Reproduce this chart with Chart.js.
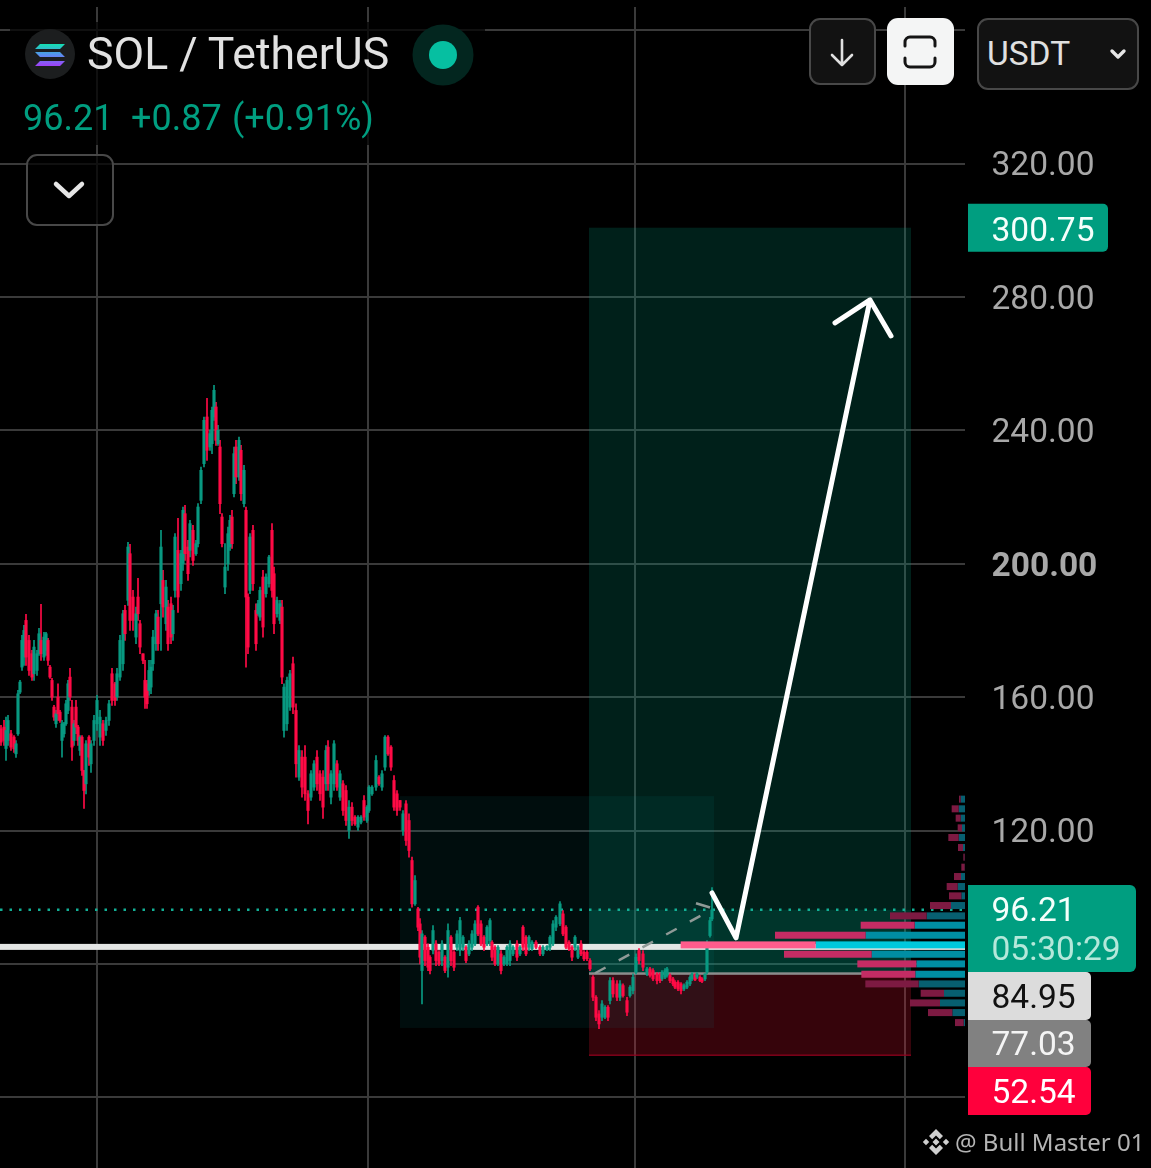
<!DOCTYPE html>
<html>
<head>
<meta charset="utf-8">
<title>SOL / TetherUS</title>
<script src="https://cdn.jsdelivr.net/npm/chart.js@4"></script>
<style>
  html, body { margin: 0; padding: 0; background: #000; }
  #wrap { position: relative; width: 1151px; height: 1168px; overflow: hidden; font-family: Roboto, sans-serif; }
  canvas { position: absolute; left: 0; top: 0; }
  .abs { position: absolute; }
  .btn { position: absolute; box-sizing: border-box; background: #121212; border: 2.5px solid #484848; border-radius: 11px; }
  .pair { position: absolute; left: 87px; top: 27px; font-size: 44.6px; line-height: 54px; color: #e2e2e2; white-space: nowrap; }
  .chg { position: absolute; top: 96px; font-size: 36px; line-height: 44px; color: #009e80; white-space: nowrap; }
</style>
</head>
<body>
<div id="wrap">
  <canvas id="chart" width="1151" height="1168"></canvas>

  <div class="abs" style="left:10px;top:22px;width:475px;height:123px;background:rgba(0,0,0,.72)"></div>
  <svg class="abs" style="left:25px;top:29px" width="50" height="50" viewBox="0 0 50 50">
    <defs><linearGradient id="sol" x1="0" y1="0" x2="0" y2="1">
      <stop offset="0" stop-color="#12e0b0"/><stop offset=".5" stop-color="#5a8ff0"/><stop offset="1" stop-color="#a040f8"/>
    </linearGradient></defs>
    <circle cx="25" cy="25" r="25" fill="#1c1e1f"/>
    <path d="M15 15h25l-5 5H10zM10 23h25l5 5H15zM15 32h25l-5 5H10z" fill="url(#sol)"/>
  </svg>
  <div class="pair">SOL / TetherUS</div>
  <svg class="abs" style="left:412px;top:24px" width="62" height="62">
    <circle cx="31" cy="31" r="30.5" fill="#03261f"/><circle cx="31" cy="31" r="14" fill="#06bfa1"/>
  </svg>
  <div class="chg" style="left:23px">96.21</div>
  <div class="chg" style="left:131px">+0.87</div>
  <div class="chg" style="left:232px">(+0.91%)</div>

  <div class="btn" style="left:26px;top:154px;width:88px;height:72px;background:rgba(0,0,0,.72)">
    <svg width="83" height="67"><path d="M28 28l13 12 13-12" fill="none" stroke="#e6e6e6" stroke-width="4.5" stroke-linecap="round" stroke-linejoin="round"/></svg>
  </div>
  <div class="btn" style="left:809px;top:18px;width:67px;height:67px">
    <svg width="62" height="62"><path d="M31 20v25M21 35l10 10 10-10" fill="none" stroke="#e0e0e0" stroke-width="2.6" stroke-linecap="round" stroke-linejoin="round"/></svg>
  </div>
  <div class="abs" style="left:887px;top:18px;width:67px;height:67px;background:#f4f5f5;border-radius:11px">
    <svg width="67" height="67"><path d="M18 28v-4a5 5 0 0 1 5-5h20a5 5 0 0 1 5 5v4M18 40v4a5 5 0 0 0 5 5h20a5 5 0 0 0 5-5v-4" fill="none" stroke="#141414" stroke-width="3" stroke-linecap="round"/></svg>
  </div>
  <div class="btn" style="left:977px;top:18px;width:162px;height:72px">
    <div class="abs" style="left:8px;top:15px;font-size:33.5px;line-height:38px;color:#e0e0e0">USDT</div>
    <svg class="abs" style="left:128px;top:24px" width="22" height="20"><path d="M5 7l6 6 6-6" fill="none" stroke="#e6e6e6" stroke-width="3.4" stroke-linecap="round" stroke-linejoin="round"/></svg>
  </div>

  <svg class="abs" style="left:922px;top:1128px" width="28" height="28" viewBox="0 0 28 28" fill="#cfcfcf">
    <path d="M14 1l7 7-3.2 3.2L14 7.4l-3.8 3.8L7 8zM14 27l-7-7 3.2-3.2 3.8 3.8 3.8-3.8L21 20zM4 10.8L7.2 14 4 17.2.8 14zM24 10.8l3.2 3.2-3.200 3.200-3.200-3.200zM14 10.500l3.500 3.500-3.500 3.500-3.500-3.500z"/>
  </svg>
  <div class="abs" style="left:955px;top:1127px;font-size:24px;line-height:30px;color:#b4b4b4;white-space:nowrap;font-family:'Noto Sans',sans-serif">@ Bull Master 01</div>
</div>

<script>
// candles, x is bar time on the chart's own time axis
const barTimes = [
  1,4,6,8,11,14,16,18,20,22,
  24,26,29,32,34,37,39,41,44,46,
  48,50,52,54,56,58,60,62,64,66,
  68,70,72,74,76,78,80,82,84,86,
  89,91,94,97,100,103,106,109,112,115,
  117,120,123,125,128,130,133,136,138,140,
  143,145,147,149,151,153,156,158,161,163,
  166,168,171,173,175,178,181,183,185,188,
  190,193,196,198,201,204,207,210,212,214,
  216,218,220,222,225,228,230,232,234,236,
  239,241,244,246,248,250,253,256,258,260,
  263,266,269,272,274,277,280,282,284,287,
  290,293,296,299,302,305,308,311,314,317,
  320,323,326,328,331,334,337,340,343,346,
  349,352,355,358,361,364,367,369,372,376,
  379,382,385,388,391,394,397,400,403,406,
  409,412,415,418,420,422,425,428,430,433,
  436,439,442,445,448,451,454,457,460,463,
  466,469,472,475,478,481,484,487,490,492,
  495,498,501,504,507,510,513,517,520,523,
  526,529,532,536,540,543,547,550,553,556,
  560,563,566,569,572,575,578,581,584,587,
  590,593,596,599,602,605,608,610,613,617,
  620,623,627,630,633,636,639,643,647,650,
  653,657,660,662,665,667,670,673,675,678,
  681,684,687,690,692,695,697,700,702,705,
  707,710,712
];
const opens = [
  150.5,151,144.6,147,149,148,143,149,161.5,169,
  172,183,177,173,167,168,173,177,172,174,
  177,169,165,157,152,160,155.5,147,149,152,
  156,166,157,147,157,151,144,148,138,134,
  148,140,147,152,148,152,150,153,167,164,
  160,166,170,186,189,203,190,178,190,182,
  173,165,164,162,163,170,176,184,188,195,
  182,187,188,179,192,204,194,200,215,205,
  204,210,203,206,219,230,244,235,236,244,
  247,236,235,214,193,200,205,214,221,235,
  226,234,218,216,190,192,210,186,185,184,
  196,191,194,210,197,185,183,187,150,152,
  157,170,156,136,142,142,131,130,133,142,
  137,136,134,145,130,134,140,130,134,132,
  120,127,124,121,122.5,129,123,126,131,133,
  136,133,139,148,145,135,131,129,120,128,
  123,111,98,96.5,92,78,88,85,82,84,
  86,83.5,81,82,79,88,83.5,85,84,85,
  85,83,85,86,97,92,88,86,87,86.5,
  85,80,83,80,80,81,83,86,83,91,
  88,85,84.5,86.5,85,83,84.2,85,86,91,
  92,95,91,86.5,85,85,82,86,83.5,83.5,
  81,76,70,65,64,64,67,69,75,74,
  70,73.5,69,70.5,72,77.5,84,83,77,78.5,
  78,77,77,75.5,76,76.5,76.5,75.5,74.5,74.5,
  74,72.5,73,74,75.5,76.8,76,76,75.5,75.5,
  77.5,88.5,93.5
];
const highs = [
  151.5,153,154,154.5,150,148.5,147,162,165,178.5,
  181.5,184.8,178.5,174,177,174,180.6,187.8,179.4,179.4,
  177.6,169.5,165.6,157.5,156,164,156,153,152.4,159,
  165,168.6,159,153,159,151.5,148.5,148.5,138,147,
  148.5,147,154.5,160.5,156,153,154,159,168.6,164.4,
  168.6,178.5,186,187.5,206.4,205.8,192,187,195.6,183,
  173,171,165,171,171,180,186,186,210,198,
  195,189,190,187.5,209,213.6,204,217,217.5,207,
  213,211.5,207,218,229,244,249.6,240,247,253.5,
  248.4,241.5,237,215,206,211,214.5,216,235,237,
  238,235.5,229.5,217,191,209,211.5,188,189,193,
  198,197,202.5,212,199,190,189,189,164,166,
  168,172,158,145.5,144,145.5,132,138,141,144,
  138,138,145.5,147,138,147,141,138,135,133.5,
  129,128.4,124.5,124.5,124.5,130.5,127.5,133.5,133.5,142.5,
  136.5,138,148.5,148.5,145.5,136.5,132,129,126,129,
  125,112,106.5,97,93.6,90,88.5,86,82.5,91.5,
  87,84,87,82.5,92,88.5,84,90,94,88.5,
  85.5,87,90,93,97.5,93,88.5,91.5,93.6,87,
  85.5,85.5,84,82.5,85.5,87,85.5,87,85.5,91.5,
  88.5,88.5,87,87,85.5,85.5,85.5,88.5,93,94.5,
  98.7,96,91.5,87,85.5,88.5,85.5,87,84,84,
  81.6,76.5,70.5,66,69,67.5,67.5,75.9,75.9,75,
  75,74,70,73.5,77,83,84.6,84,79,79,
  78.6,77.4,77.4,78,78.6,79,77,76,75,75,
  74.4,74,75,76.5,77.4,77,77.4,76.5,75.9,77,
  87,94,102.9
];
const lows = [
  145.5,145.5,141,145.5,144,143.4,141.9,148.5,161,168,
  169.5,169.5,166.5,165,165,166.5,172.5,171,171,172.5,
  169.5,165.6,159,153,150.9,153,152.4,142,148,151.5,
  155,159,141,145.5,149,145.5,142.5,136.5,126.6,131,
  139.5,137.4,145.5,150,145.5,145.5,148.5,151.5,157.5,157.5,
  159,165,168,177,187.5,180,180,176,183,173,
  170,156.6,156.6,160.5,161,168,174,174,174,184,
  180,174,176,177,190,185.4,192,198,201,195,
  202,199.5,202.5,205,218,229,231,234,233,243,
  235.5,235.5,215,205,191,198,204,204.6,220,224,
  225,219,217,169,173,191,192,174,184.5,183,
  178,190,193,190,179,184,182,164,148,150,
  156,155,136,135,130,129,122,129,132,132,
  129,123.6,132,132,128,132,132,129,124.5,121.5,
  117.6,121.5,121.5,120,122,123,122.4,125.4,130.5,132,
  133.5,132,138,142.5,138,126,124.5,126,118.5,115.5,
  112,97,97.5,90,80,68,79.5,78,77,83,
  79.5,79.5,79.5,77.4,76,79.5,78,84,82.5,84,
  80.4,82.5,84,85.5,88.5,85.5,84,85.5,85.5,81,
  79.5,79.5,77,79.5,79.5,79.5,82.5,81,82.5,84,
  82.5,84,84,84.6,82.5,82.5,84,84,85.5,90,
  91.5,88.5,84.6,84,81,84,81.6,82.5,81,81,
  78,69,63,60.6,63,63.6,63,68,70,69,
  69,70,64.5,70,71,77,80,78,76.5,76,
  75,74,74.4,75,75.6,76,74.4,73.5,72.6,72,
  71,72,72.6,73.5,75,75,75.6,74.7,74.4,75,
  77,88,93
];
const closes = [
  146.5,147,150,153,145,144.5,146,161,164.5,177,
  180,172,168,166,175,173,179,173,178,179,
  171,166,160,154,155,155,153,152,152,158,
  164,160,145,152,151,147,148,138,132,146,
  142,146,153,159,154,147,153,158,159,159,
  167,177,185,179,205,183,183,185,185,175,
  171,160,158,168,169,178,185,176,205,187,
  193,176,178,186,208,190,203,216,203,197,
  212,201,206,217,228,243,234,239,246,252,
  237,240,218,206,199,209,213,206,233,226,
  237,221,228,190,175,208,194,176,188,192,
  181,196,202,192,182,189,188,166,163,165,
  167,157,140,144,133,131,126,137,140,134,
  131,127,144,134,137,146,133,137,126,123,
  127,123,122,124,124,124,127,133,133,141,
  134,137,148,143,139,127,126,127,125,117,
  114,98,105,91,82,89,81,79,78,90,
  81,80,86,78,90,81,79,89,93,88,
  81,86,89,92,89,86,85,91,93,82,
  80,85,78,82,85,86,85,82,85,85,
  83,88,86.5,85,83,85,85.3,88,92,94,
  98,89,85,84.5,82,88,85,83,81.5,81.5,
  78.5,70,64,62,68,67,64,75,71,70,
  74,70.5,65.5,73,76,82,81,79,78.5,76.5,
  75.5,75,75,77.5,78,78.5,75,74,73,72.5,
  72,73.5,74.5,76,77,75.2,77,75,74.8,77,
  86,93,96.2
];

// axis
const priceTicks = [360, 320, 280, 240, 200, 160, 120, 80, 40];
const priceLabels = ["320.00", "280.00", "240.00", "200.00", "160.00", "120.00"];
const timeTicks = [97, 368, 635, 905];

// levels of the drawing tools
const targetPrice = 300.75;
const entryPrice = 77.03;
const stopPrice = 52.54;
const lastPrice = 96.21;
const markPrice = 84.95;
const positionTimes = [589, 911];
const rangeTimes = [400, 714];
const rangePrices = [130.3, 60.8];

// arrow and dashed projection
const arrowTimes = [712, 736, 870, 835, 870, 891];
const arrowPrices = [101.3, 87.8, 279.1, 272.2, 279.1, 268.3];
const dashTimes = [595, 712];
const dashPrices = [77.2, 96.3];
const dashHeadTimes = [696, 710];
const dashHeadPrices = [98.2, 96.9];

// volume profile
const profilePrices = [129.4,126.5,123.7,120.8,117.9,114.9,112.0,109.0,106.2,103.2,100.4,97.5,94.4,91.6,88.6,85.7,82.9,80.0,76.9,74.0,71.2,68.3,65.4,62.4];
const profileBuy = [13,19,13,9,19,6,1,1,12,22,11,42,115,151,298,448,280,146,149,139,63,75,38,4];
const profileSell = [5,21,15,13,31,15,4,10,21,33,37,63,110,162,272,405,263,177,162,160,70,90,73,26];
const valueAreaPrices = [91.6, 76.9];
const pocPrice = 85.7;

const UP = "#089981";
const DOWN = "#ff0a45";
const barColors = opens.map((o, i) => (closes[i] >= o ? UP : DOWN));

function xyPairs(xs, ys) {
  return xs.map((x, i) => ({ x: x, y: ys[i] }));
}

const chartLayers = {
  id: "chartLayers",
  beforeDatasetsDraw(chart) {
    const ctx = chart.ctx;
    const x = chart.scales.x;
    const y = chart.scales.y;
    const left = x.getPixelForValue(positionTimes[0]);
    const right = x.getPixelForValue(positionTimes[1]);
    const entryY = y.getPixelForValue(entryPrice);
    const lastY = y.getPixelForValue(lastPrice);
    const targetY = y.getPixelForValue(targetPrice);
    const stopY = y.getPixelForValue(stopPrice);
    ctx.save();
    // position box
    ctx.fillStyle = "rgba(0,160,130,.2)";
    ctx.fillRect(left, targetY, right - left, entryY - targetY);
    ctx.fillStyle = "rgba(0,170,135,.16)";
    ctx.fillRect(left, lastY, right - left, entryY - lastY);
    ctx.fillStyle = "rgba(255,20,50,.21)";
    ctx.fillRect(left, entryY, right - left, stopY - entryY);
    ctx.fillStyle = "rgba(150,0,30,.8)";
    ctx.fillRect(left, stopY - 1, right - left, 1.5);
    // earlier range box
    const rx = x.getPixelForValue(rangeTimes[0]);
    const ry = y.getPixelForValue(rangePrices[0]);
    ctx.fillStyle = "rgba(0,170,170,.08)";
    ctx.fillRect(rx, ry, x.getPixelForValue(rangeTimes[1]) - rx, y.getPixelForValue(rangePrices[1]) - ry);
    // price lines
    ctx.fillStyle = "#e4e6e5";
    ctx.fillRect(0, y.getPixelForValue(markPrice) - 3.5, chart.chartArea.right, 6);
    ctx.fillStyle = "#8c8c8c";
    ctx.fillRect(left, entryY - 1.5, right - left, 2.5);
    ctx.strokeStyle = "#12b096";
    ctx.lineWidth = 2.5;
    ctx.setLineDash([2.5, 7]);
    ctx.beginPath();
    ctx.moveTo(0, lastY);
    ctx.lineTo(chart.chartArea.right, lastY);
    ctx.stroke();
    ctx.restore();
  },
  afterDatasetsDraw(chart) {
    const ctx = chart.ctx;
    const y = chart.scales.y;
    const v = chart.scales.xVol;
    const base = v.getPixelForValue(0);
    ctx.save();
    profilePrices.forEach((p, i) => {
      const top = y.getPixelForValue(p + 1.05);
      const h = y.getPixelForValue(p - 1.05) - top;
      const inArea = p <= valueAreaPrices[0] && p >= valueAreaPrices[1];
      const poc = p === pocPrice;
      const buyEnd = v.getPixelForValue(profileBuy[i]);
      const sellEnd = v.getPixelForValue(profileBuy[i] + profileSell[i]);
      ctx.fillStyle = poc ? "#00c8dc" : inArea ? "#008ea3" : "#075f70";
      ctx.fillRect(buyEnd, top, base - buyEnd, h);
      ctx.fillStyle = poc ? "#ff5c8c" : inArea ? "#c42c64" : "#7d1a42";
      ctx.fillRect(sellEnd, top, buyEnd - sellEnd, h);
    });

    function tag(x0, y0, w, h, fill, radii) {
      ctx.fillStyle = fill;
      ctx.beginPath();
      ctx.roundRect(x0, y0, w, h, radii);
      ctx.fill();
    }
    function label(text, color, cy) {
      ctx.fillStyle = color;
      ctx.fillText(text, 991.5, cy);
    }
    ctx.font = "33.5px Roboto, sans-serif";
    ctx.textBaseline = "middle";
    ctx.textAlign = "left";
    const targetY = y.getPixelForValue(targetPrice);
    tag(968, targetY - 24, 140, 48, "#009e80", [0, 5, 5, 0]);
    label(targetPrice.toFixed(2), "#f4fffb", targetY + 5);
    tag(968, 885, 168, 87, "#009e80", [0, 6, 6, 0]);
    label(lastPrice.toFixed(2), "#f4fffb", 913);
    label("05:30:29", "#b4e8da", 952);
    tag(968, 972, 123, 48, "#dcdcdc", [0, 5, 5, 0]);
    label(markPrice.toFixed(2), "#111111", 1000);
    tag(968, 1020, 123, 47, "#818181", [0, 5, 5, 0]);
    label(entryPrice.toFixed(2), "#f4f4f4", 1047);
    tag(968, 1067, 123, 48, "#ff003c", [0, 5, 5, 0]);
    label(stopPrice.toFixed(2), "#ffffff", 1095);
    ctx.restore();
  }
};

new Chart(document.getElementById("chart").getContext("2d"), {
  type: "bar",
  data: {
    datasets: [
      {
        type: "line",
        data: xyPairs(arrowTimes, arrowPrices),
        borderColor: "#ffffff",
        borderWidth: 5,
        borderCapStyle: "round",
        borderJoinStyle: "round",
        pointRadius: 0,
        tension: 0,
        order: 0,
      },
      {
        type: "line",
        data: xyPairs(dashTimes, dashPrices),
        borderColor: "#8f9a97",
        borderWidth: 2.5,
        borderDash: [12, 15],
        pointRadius: 0,
        tension: 0,
        order: 1,
      },
      {
        type: "line",
        data: xyPairs(dashHeadTimes, dashHeadPrices),
        borderColor: "#8f9a97",
        borderWidth: 2.5,
        pointRadius: 0,
        tension: 0,
        order: 1,
      },
      {
        data: xyPairs(barTimes, opens.map((o, i) => [o, closes[i]])),
        backgroundColor: barColors,
        barThickness: 2.5,
        grouped: false,
        order: 2,
      },
      {
        data: xyPairs(barTimes, lows.map((l, i) => [l, highs[i]])),
        backgroundColor: barColors,
        barThickness: 1,
        grouped: false,
        order: 3,
      },
    ],
  },
  options: {
    responsive: false,
    animation: false,
    devicePixelRatio: 1,
    layout: { padding: { top: 7, left: 0, right: 0, bottom: 0 } },
    plugins: {
      legend: { display: false },
      title: { display: false },
      tooltip: { enabled: false },
    },
    scales: {
      x: {
        type: "linear",
        offset: false,
        min: 0,
        max: 965,
        border: { display: false },
        grid: { offset: false, color: "#3a3a3a", lineWidth: 2, drawTicks: false },
        ticks: { display: false },
        afterBuildTicks(scale) {
          scale.ticks = timeTicks.map((t) => ({ value: t }));
        },
        afterFit(scale) {
          scale.height = 0;
          scale.paddingLeft = 0;
          scale.paddingRight = 0;
        },
      },
      xVol: {
        type: "linear",
        axis: "x",
        display: false,
        offset: false,
        reverse: true,
        min: 0,
        max: 2895,
      },
      y: {
        type: "linear",
        position: "right",
        min: 18.8,
        max: 366.93,
        border: { display: false },
        grid: { color: "#3a3a3a", lineWidth: 2, drawTicks: false },
        afterBuildTicks(scale) {
          scale.ticks = priceTicks.map((t) => ({ value: t }));
        },
        afterFit(scale) {
          scale.width = 186;
          scale.paddingTop = 0;
          scale.paddingBottom = 0;
        },
        ticks: {
          padding: 26.5,
          labelOffset: 3.5,
          autoSkip: false,
          color: "#a8a8a8",
          font(ctx) {
            return ctx.tick && ctx.tick.value === 200
              ? { family: "Roboto", size: 33.5, weight: "bold" }
              : { family: "Roboto", size: 33.5 };
          },
          callback(value) {
            const text = value.toFixed(2);
            return priceLabels.includes(text) ? text : "";
          },
        },
      },
    },
  },
  plugins: [chartLayers],
});
</script>
</body>
</html>
